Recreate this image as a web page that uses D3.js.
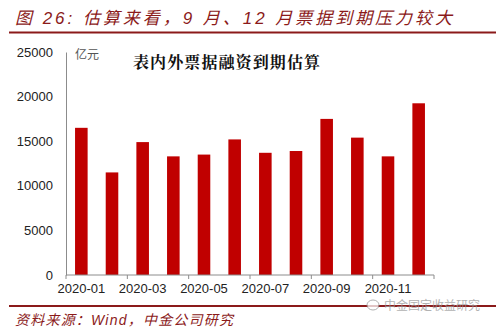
<!DOCTYPE html>
<html>
<head>
<meta charset="utf-8">
<script src="https://cdn.jsdelivr.net/npm/d3@7"></script>
<style>
  body { margin: 0; background: #fff; }
  svg { display: block; }
</style>
</head>
<body>
<div id="chart"></div>
<script>
// chart data
const months = ["2020-01", "2020-02", "2020-03", "2020-04", "2020-05", "2020-06",
                "2020-07", "2020-08", "2020-09", "2020-10", "2020-11", "2020-12"];
const maturity = [16500, 11500, 14900, 13300, 13500, 15200, 13700, 13900, 17500, 15400, 13300, 19250];
const yTicks = [0, 5000, 10000, 15000, 20000, 25000];
const xLabels = ["2020-01", "2020-03", "2020-05", "2020-07", "2020-09", "2020-11"];

const width = 500, height = 329;
const margin = { left: 66, right: 66, top: 52, bottom: 54 };
const darkRed = "#8b1a1a";

const svg = d3.select("#chart").append("svg")
    .attr("width", width)
    .attr("height", height);

// header title + rule
svg.append("text")
    .attr("x", 15)
    .attr("y", 24)
    .attr("textLength", 437)
    .attr("lengthAdjust", "spacing")
    .style("font-family", "'Liberation Sans', 'Noto Sans CJK SC', sans-serif")
    .style("font-style", "italic")
    .style("font-size", "17px")
    .style("fill", darkRed)
    .text("图 26: 估算来看，9 月、12 月票据到期压力较大");

svg.append("line")
    .attr("x1", 9).attr("x2", 496)
    .attr("y1", 32.5).attr("y2", 32.5)
    .style("stroke", darkRed)
    .style("stroke-width", 2);

// scales
const x = d3.scaleBand()
    .domain(months)
    .range([margin.left, width - margin.right])
    .paddingInner(0.59)
    .paddingOuter(0.295);

const y = d3.scaleLinear()
    .domain([0, 25000])
    .range([height - margin.bottom, margin.top]);

// bars
svg.selectAll(".bar")
    .data(months)
    .enter().append("rect")
    .attr("class", "bar")
    .attr("x", d => x(d))
    .attr("width", x.bandwidth())
    .attr("y", (d, i) => y(maturity[i]))
    .attr("height", (d, i) => y(0) - y(maturity[i]))
    .style("fill", "#c00000");

// y axis
const yAxis = svg.append("g")
    .attr("transform", `translate(${margin.left},0)`)
    .call(d3.axisLeft(y).tickValues(yTicks).tickSize(0).tickPadding(13).tickFormat(d3.format("d")));
yAxis.select(".domain").style("stroke", "#8c8c8c");
yAxis.selectAll("text")
    .style("font-family", "'Liberation Sans', Arial, sans-serif")
    .style("font-size", "13px")
    .style("fill", "#222");

// x axis: ticks on every second band boundary, labels under odd months
const step = x.step();
const boundaries = d3.range(0, months.length + 1, 2).map(i => margin.left + i * step);
const xAxis = svg.append("g").attr("class", "x-axis");
xAxis.append("line")
    .attr("x1", margin.left).attr("x2", width - margin.right)
    .attr("y1", y(0)).attr("y2", y(0))
    .style("stroke", "#8c8c8c");
xAxis.selectAll(".tick-mark")
    .data(boundaries)
    .enter().append("line")
    .attr("class", "tick-mark")
    .attr("x1", d => d).attr("x2", d => d)
    .attr("y1", y(0)).attr("y2", y(0) + 4)
    .style("stroke", "#8c8c8c");
xAxis.selectAll(".x-label")
    .data(xLabels)
    .enter().append("text")
    .attr("class", "x-label")
    .attr("x", d => x(d) + x.bandwidth() / 2)
    .attr("y", y(0) + 18)
    .attr("text-anchor", "middle")
    .style("font-family", "'Liberation Sans', Arial, sans-serif")
    .style("font-size", "13px")
    .style("fill", "#222")
    .text(d => d);

// unit and inner title
svg.append("text")
    .attr("x", 75)
    .attr("y", 59)
    .style("font-family", "'Noto Sans CJK SC', sans-serif")
    .style("font-size", "12px")
    .style("fill", "#555")
    .text("亿元");

svg.append("text")
    .attr("x", 133)
    .attr("y", 68)
    .attr("textLength", 187)
    .attr("lengthAdjust", "spacing")
    .style("font-family", "'Noto Serif CJK SC', 'Noto Sans CJK SC', serif")
    .style("font-weight", "bold")
    .style("font-size", "16px")
    .style("fill", "#111")
    .text("表内外票据融资到期估算");

// footer rule, source and watermark
svg.append("line")
    .attr("x1", 9).attr("x2", 496)
    .attr("y1", 306).attr("y2", 306)
    .style("stroke", darkRed)
    .style("stroke-width", 2);

const mark = svg.append("g").style("opacity", 0.75);
mark.append("ellipse")
    .attr("cx", 373).attr("cy", 305)
    .attr("rx", 6).attr("ry", 5)
    .style("fill", "#fff")
    .style("stroke", "#999");
mark.append("text")
    .attr("x", 384)
    .attr("y", 310)
    .style("font-family", "'Noto Sans CJK SC', sans-serif")
    .style("font-size", "12px")
    .style("fill", "#999")
    .text("中金固定收益研究");

svg.append("text")
    .attr("x", 15)
    .attr("y", 325)
    .attr("textLength", 218)
    .attr("lengthAdjust", "spacing")
    .style("font-family", "'Liberation Sans', 'Noto Sans CJK SC', sans-serif")
    .style("font-style", "italic")
    .style("font-size", "14px")
    .style("fill", darkRed)
    .text("资料来源：Wind，中金公司研究");
</script>
</body>
</html>
